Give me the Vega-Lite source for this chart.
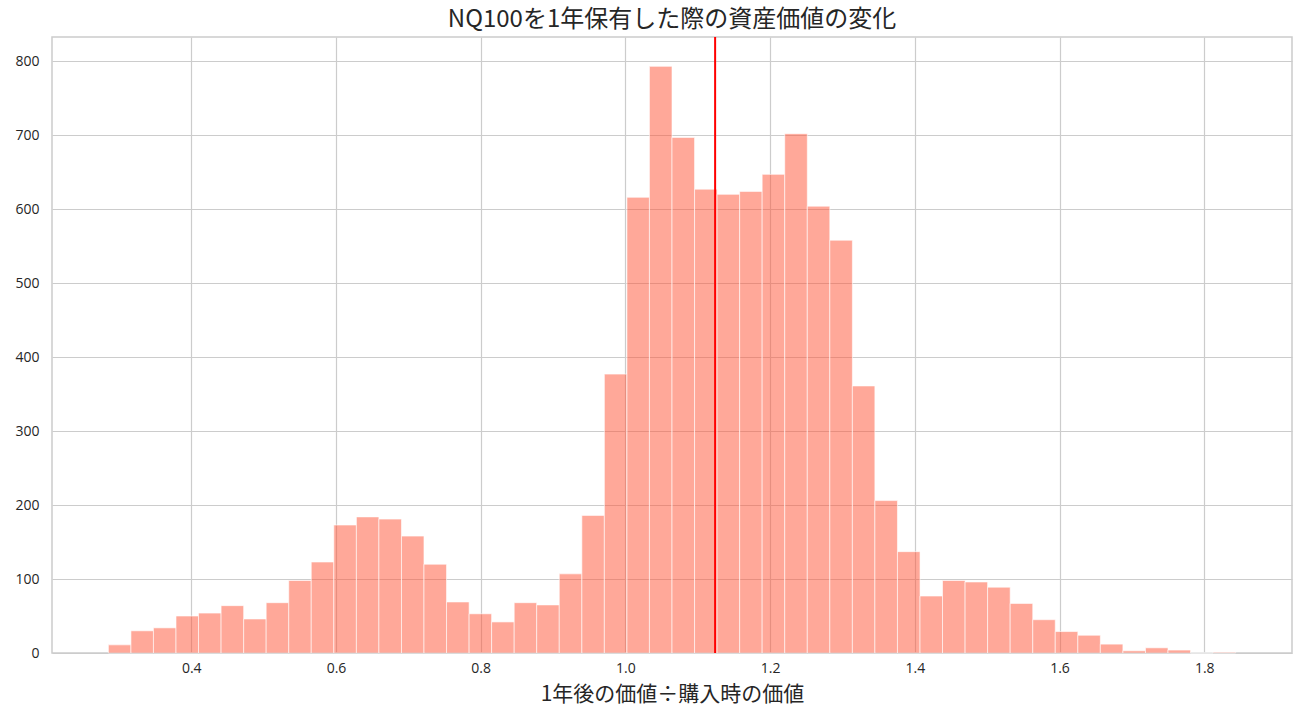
{
  "$schema": "https://vega.github.io/schema/vega-lite/v6.json",
  "width": 1240,
  "height": 616,
  "autosize": "none",
  "padding": {"left": 52, "top": 37, "right": 15, "bottom": 64},
  "background": "white",
  "title": {
    "text": "NQ100を1年保有した際の資産価値の変化",
    "fontSize": 24,
    "font": "Noto Sans CJK JP",
    "fontWeight": "normal",
    "color": "#262626",
    "anchor": "middle",
    "offset": 4
  },
  "config": {
    "view": {"stroke": "#cccccc", "strokeWidth": 1.5},
    "axis": {
      "labelFont": "Open Sans",
      "titleFont": "Noto Sans CJK JP",
      "labelColor": "#262626",
      "titleColor": "#262626",
      "labelFontSize": 14,
      "ticks": false,
      "domain": false,
      "gridColor": "#cccccc",
      "gridWidth": 1.2
    }
  },
  "datasets": {
    "hist": [
      {"bin_start": 0.2854, "bin_end": 0.3166, "count": 11},
      {"bin_start": 0.3166, "bin_end": 0.3477, "count": 30},
      {"bin_start": 0.3477, "bin_end": 0.3789, "count": 34},
      {"bin_start": 0.3789, "bin_end": 0.4100, "count": 50},
      {"bin_start": 0.4100, "bin_end": 0.4412, "count": 54},
      {"bin_start": 0.4412, "bin_end": 0.4724, "count": 64},
      {"bin_start": 0.4724, "bin_end": 0.5035, "count": 46},
      {"bin_start": 0.5035, "bin_end": 0.5347, "count": 68},
      {"bin_start": 0.5347, "bin_end": 0.5658, "count": 98},
      {"bin_start": 0.5658, "bin_end": 0.5970, "count": 123},
      {"bin_start": 0.5970, "bin_end": 0.6282, "count": 173},
      {"bin_start": 0.6282, "bin_end": 0.6593, "count": 184},
      {"bin_start": 0.6593, "bin_end": 0.6905, "count": 181},
      {"bin_start": 0.6905, "bin_end": 0.7216, "count": 158},
      {"bin_start": 0.7216, "bin_end": 0.7528, "count": 120},
      {"bin_start": 0.7528, "bin_end": 0.7840, "count": 69},
      {"bin_start": 0.7840, "bin_end": 0.8151, "count": 53},
      {"bin_start": 0.8151, "bin_end": 0.8463, "count": 42},
      {"bin_start": 0.8463, "bin_end": 0.8774, "count": 68},
      {"bin_start": 0.8774, "bin_end": 0.9086, "count": 65},
      {"bin_start": 0.9086, "bin_end": 0.9398, "count": 107},
      {"bin_start": 0.9398, "bin_end": 0.9709, "count": 186},
      {"bin_start": 0.9709, "bin_end": 1.0021, "count": 377},
      {"bin_start": 1.0021, "bin_end": 1.0332, "count": 616},
      {"bin_start": 1.0332, "bin_end": 1.0644, "count": 793},
      {"bin_start": 1.0644, "bin_end": 1.0956, "count": 697},
      {"bin_start": 1.0956, "bin_end": 1.1267, "count": 627},
      {"bin_start": 1.1267, "bin_end": 1.1579, "count": 620},
      {"bin_start": 1.1579, "bin_end": 1.1890, "count": 624},
      {"bin_start": 1.1890, "bin_end": 1.2202, "count": 647},
      {"bin_start": 1.2202, "bin_end": 1.2514, "count": 702},
      {"bin_start": 1.2514, "bin_end": 1.2825, "count": 604},
      {"bin_start": 1.2825, "bin_end": 1.3137, "count": 558},
      {"bin_start": 1.3137, "bin_end": 1.3448, "count": 361},
      {"bin_start": 1.3448, "bin_end": 1.3760, "count": 206},
      {"bin_start": 1.3760, "bin_end": 1.4072, "count": 137},
      {"bin_start": 1.4072, "bin_end": 1.4383, "count": 77},
      {"bin_start": 1.4383, "bin_end": 1.4695, "count": 98},
      {"bin_start": 1.4695, "bin_end": 1.5006, "count": 96},
      {"bin_start": 1.5006, "bin_end": 1.5318, "count": 89},
      {"bin_start": 1.5318, "bin_end": 1.5630, "count": 67},
      {"bin_start": 1.5630, "bin_end": 1.5941, "count": 45},
      {"bin_start": 1.5941, "bin_end": 1.6253, "count": 29},
      {"bin_start": 1.6253, "bin_end": 1.6564, "count": 24},
      {"bin_start": 1.6564, "bin_end": 1.6876, "count": 12},
      {"bin_start": 1.6876, "bin_end": 1.7188, "count": 3},
      {"bin_start": 1.7188, "bin_end": 1.7499, "count": 7},
      {"bin_start": 1.7499, "bin_end": 1.7811, "count": 4},
      {"bin_start": 1.7811, "bin_end": 1.8122, "count": 0},
      {"bin_start": 1.8122, "bin_end": 1.8434, "count": 1}
    ],
    "mean": [{"mean": 1.124}]
  },
  "layer": [
    {
      "data": {"name": "hist"},
      "mark": {
        "type": "rect",
        "fill": "#ff5234",
        "fillOpacity": 0.5,
        "stroke": "white",
        "strokeWidth": 1,
        "strokeOpacity": 0.6
      },
      "encoding": {
        "x": {
          "field": "bin_start",
          "type": "quantitative",
          "scale": {"domain": [0.2075, 1.9213], "nice": false, "zero": false},
          "axis": {
            "values": [0.4, 0.6, 0.8, 1.0, 1.2, 1.4, 1.6, 1.8],
            "format": ".1f",
            "title": "1年後の価値÷購入時の価値",
            "titleFontSize": 21,
            "titleFontWeight": "normal",
            "labelPadding": 8,
            "titlePadding": 8
          }
        },
        "x2": {"field": "bin_end"},
        "y": {
          "field": "count",
          "type": "quantitative",
          "scale": {"domain": [0, 832.7], "nice": false},
          "axis": {
            "values": [0, 100, 200, 300, 400, 500, 600, 700, 800],
            "title": null,
            "labelPadding": 13
          }
        }
      }
    },
    {
      "data": {"name": "mean"},
      "mark": {"type": "rule", "color": "red", "strokeWidth": 2},
      "encoding": {"x": {"field": "mean", "type": "quantitative"}}
    }
  ]
}
